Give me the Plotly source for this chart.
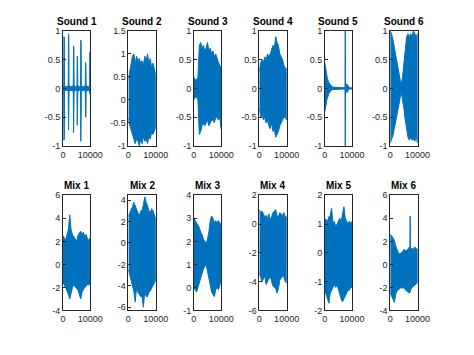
import plotly.graph_objects as go

# ---------------- data (envelopes) ----------------
x_grid = [0, 500, 1000, 1500, 2000, 2500, 3000, 3500, 4000, 4500, 5000,
          5500, 6000, 6500, 7000, 7500, 8000, 8500, 9000, 9500, 10000]

sound_titles = ["Sound 1", "Sound 2", "Sound 3", "Sound 4", "Sound 5", "Sound 6"]
mix_titles = ["Mix 1", "Mix 2", "Mix 3", "Mix 4", "Mix 5", "Mix 6"]

s1_x = [0, 300, 400, 500, 600, 1000, 1500, 1950, 2050, 2150, 2250, 3000, 3800, 3900,
        4000, 4100, 4700, 5150, 5250, 5350, 5450, 6000, 6450, 6550, 6650, 6750, 7500,
        8200, 8300, 8400, 8500, 9200, 9800, 9900, 10000]
s1_hi = [0.05, 0.04, 0.9, 0.88, 0.05, 0.03, 0.03, 0.05, 0.95, 0.9, 0.05, 0.03, 0.05,
         0.74, 0.7, 0.05, 0.03, 0.05, 0.56, 0.5, 0.05, 0.03, 0.05, 0.84, 0.8, 0.05, 0.03,
         0.05, 0.45, 0.4, 0.05, 0.03, 0.04, 0.63, 0.6]
s1_lo = [-0.05, -0.04, -0.9, -0.85, -0.05, -0.03, -0.03, -0.05, -0.72, -0.7, -0.05,
         -0.03, -0.05, -0.77, -0.72, -0.05, -0.03, -0.05, -0.64, -0.6, -0.05, -0.03,
         -0.05, -0.92, -0.88, -0.05, -0.03, -0.05, -0.5, -0.45, -0.05, -0.03, -0.04,
         -0.1, -0.08]

s2_hi = [0.45, 0.6, 0.75, 0.95, 1.0, 0.8, 0.95, 0.85, 0.9, 0.8, 0.85, 0.75, 0.95,
         0.85, 1.0, 0.8, 0.9, 0.7, 0.8, 0.65, 0.55]
s2_lo = [-0.4, -0.55, -0.7, -0.8, -0.85, -0.95, -0.85, -0.9, -1.0, -0.85, -0.95, -0.8,
         -0.9, -0.85, -0.95, -0.8, -0.85, -0.7, -0.75, -0.7, -0.6]

s3_hi = [0.2, 0.15, 0.15, 0.2, 0.75, 0.8, 0.7, 0.75, 0.65, 0.7, 0.8, 0.65, 0.7,
         0.6, 0.65, 0.55, 0.6, 0.5, 0.45, 0.4, 0.35]
s3_lo = [-0.2, -0.15, -0.15, -0.2, -0.8, -0.75, -0.65, -0.6, -0.65, -0.6, -0.55, -0.65,
         -0.6, -0.55, -0.55, -0.6, -0.5, -0.5, -0.55, -0.5, -0.7]

s4_hi = [0.3, 0.45, 0.5, 0.45, 0.55, 0.5, 0.6, 0.55, 0.6, 0.7, 0.75, 0.7, 0.9,
         0.8, 0.75, 0.6, 0.55, 0.5, 0.4, 0.35, 0.35]
s4_lo = [-0.35, -0.5, -0.45, -0.55, -0.5, -0.6, -0.55, -0.65, -0.7, -0.6, -0.75, -0.7,
         -0.85, -0.8, -0.75, -0.65, -0.6, -0.55, -0.5, -0.5, -0.55]

s5_x = [0, 250, 500, 750, 1000, 1500, 2000, 2500, 3000, 4000, 5000, 6000, 7000,
        7400, 7500, 7600, 7800, 8000, 8200, 8400, 8600, 9000, 10000]
s5_hi = [0.45, 0.38, 0.3, 0.22, 0.17, 0.1, 0.06, 0.04, 0.02, 0.015, 0.01, 0.01, 0.01,
         0.01, 1.0, 0.01, 0.03, 0.08, 0.06, 0.07, 0.02, 0.01, 0.01]
s5_lo = [-0.4, -0.35, -0.28, -0.2, -0.15, -0.09, -0.05, -0.03, -0.02, -0.015, -0.01, -0.01,
         -0.01, -0.01, -1.0, -0.01, -0.03, -0.07, -0.06, -0.06, -0.02, -0.01, -0.01]

s6_hi = [1.0, 0.95, 0.85, 0.72, 0.6, 0.48, 0.36, 0.22, 0.05, 0.2, 0.4, 0.65, 0.9,
         0.95, 0.9, 0.95, 0.9, 1.0, 0.95, 0.9, 0.95]
s6_lo = [-0.95, -0.9, -0.82, -0.7, -0.58, -0.46, -0.34, -0.2, -0.05, -0.18, -0.35, -0.55,
         -0.72, -0.85, -0.9, -0.85, -0.9, -0.88, -0.92, -0.85, -0.95]

m1_hi = [2.5, 2.3, 2.1, 2.6, 3.0, 4.3, 3.0, 2.6, 2.4, 2.2, 2.0, 2.5, 2.7, 2.9, 2.6,
         2.8, 2.4, 2.6, 2.2, 2.1, 2.3]
m1_lo = [-1.5, -1.8, -2.0, -2.2, -2.6, -3.0, -2.4, -2.0, -1.8, -1.9, -2.1, -2.2, -2.6,
         -3.0, -2.4, -2.2, -2.0, -1.9, -1.7, -1.8, -1.6]

m2_hi = [2.5, 2.8, 3.0, 3.4, 3.8, 3.5, 3.2, 2.8, 2.5, 3.0, 3.0, 3.6, 4.3, 3.8, 3.5,
         3.0, 2.8, 3.2, 3.0, 2.6, 2.3]
m2_lo = [-2.5, -3.0, -3.5, -4.0, -4.5, -5.5, -4.2, -4.6, -4.8, -5.0, -5.0, -6.0, -4.5,
         -5.0, -5.0, -4.6, -4.5, -4.2, -4.0, -3.8, -3.5]

m3_hi = [3.0, 2.9, 2.8, 2.7, 2.6, 2.4, 2.3, 2.1, 2.0, 1.9, 2.1, 2.4, 2.9, 3.1, 3.0,
         2.8, 2.9, 2.8, 2.9, 2.8, 2.7]
m3_lo = [0.0, -0.1, -0.2, 0.0, 0.2, 0.4, 0.6, 0.8, 0.9, 1.0, 0.8, 0.4, 0.1, -0.2, -0.3,
         -0.4, -0.1, 0.0, -0.1, 0.1, 0.3]

m4_hi = [1.0, 0.8, 0.9, 0.7, 0.5, 0.6, 0.4, 0.7, 0.3, 0.5, 0.8, 0.9, 1.0, 0.6, 0.5,
         0.8, 0.7, 0.6, 0.8, 0.5, 0.5]
m4_lo = [-3.4, -3.7, -4.0, -3.8, -3.6, -4.2, -4.0, -3.8, -3.6, -4.0, -4.3, -4.4, -4.5,
         -4.8, -4.5, -3.9, -3.8, -3.6, -3.7, -4.0, -4.1]

m5_hi = [1.2, 1.15, 1.1, 1.25, 1.3, 1.55, 1.0, 1.1, 0.9, 1.0, 1.1, 1.2, 1.1, 1.3, 1.6,
         1.2, 1.1, 1.0, 1.1, 1.0, 1.1]
m5_lo = [-1.3, -1.5, -1.6, -1.75, -1.4, -1.3, -1.2, -1.1, -1.2, -1.1, -1.3, -1.4, -1.6,
         -1.7, -1.6, -1.5, -1.4, -1.3, -1.3, -1.2, -1.2]

m6_x = [0, 500, 1000, 1500, 2000, 2500, 3000, 3500, 4000, 4500, 5000, 5500, 6000,
        6500, 7000, 7200, 7300, 7400, 7500, 8000, 8500, 9000, 9500, 10000]
m6_hi = [2.6, 2.5, 2.3, 2.1, 1.6, 1.2, 1.0, 0.9, 1.0, 1.1, 1.3, 1.2, 1.2, 1.4, 1.5,
         1.4, 4.2, 1.4, 1.3, 1.4, 1.3, 1.5, 1.4, 1.3]
m6_lo = [-2.5, -2.8, -3.0, -3.3, -2.6, -2.3, -2.2, -2.1, -2.0, -2.1, -2.0, -2.2, -2.3,
         -2.4, -2.5, -2.3, -2.4, -2.2, -2.2, -2.0, -1.9, -1.8, -1.7, -1.6]

x_tick_vals = [0, 10000]
x_tick_text = ["0", "10000"]

y_ticks_unit = [-1, -0.5, 0, 0.5, 1]
y_text_unit = ["-1", "-0.5", "0", "0.5", "1"]
y_ticks_s2 = [-1, -0.5, 0, 0.5, 1, 1.5]
y_text_s2 = ["-1", "-0.5", "0", "0.5", "1", "1.5"]
y_ticks_m1 = [-4, -2, 0, 2, 4, 6]
y_text_m1 = ["-4", "-2", "0", "2", "4", "6"]
y_ticks_m2 = [-6, -4, -2, 0, 2, 4]
y_text_m2 = ["-6", "-4", "-2", "0", "2", "4"]
y_ticks_m3 = [-1, 0, 1, 2, 3, 4]
y_text_m3 = ["-1", "0", "1", "2", "3", "4"]
y_ticks_m4 = [-6, -4, -2, 0, 2]
y_text_m4 = ["-6", "-4", "-2", "0", "2"]
y_ticks_m5 = [-2, -1, 0, 1, 2]
y_text_m5 = ["-2", "-1", "0", "1", "2"]

y_ranges = [[-1, 1], [-1, 1.5], [-1, 1], [-1, 1], [-1, 1], [-1, 1],
            [-4, 6], [-6.3, 4.45], [-1, 4], [-6, 2], [-2, 2], [-4, 6]]

# ---------------- assembly ----------------
panels = [
    (s1_x, s1_hi, s1_lo, y_ticks_unit, y_text_unit),
    (x_grid, s2_hi, s2_lo, y_ticks_s2, y_text_s2),
    (x_grid, s3_hi, s3_lo, y_ticks_unit, y_text_unit),
    (x_grid, s4_hi, s4_lo, y_ticks_unit, y_text_unit),
    (s5_x, s5_hi, s5_lo, y_ticks_unit, y_text_unit),
    (x_grid, s6_hi, s6_lo, y_ticks_unit, y_text_unit),
    (x_grid, m1_hi, m1_lo, y_ticks_m1, y_text_m1),
    (x_grid, m2_hi, m2_lo, y_ticks_m2, y_text_m2),
    (x_grid, m3_hi, m3_lo, y_ticks_m3, y_text_m3),
    (x_grid, m4_hi, m4_lo, y_ticks_m4, y_text_m4),
    (x_grid, m5_hi, m5_lo, y_ticks_m5, y_text_m5),
    (m6_x, m6_hi, m6_lo, y_ticks_m1, y_text_m1),
]
titles = sound_titles + mix_titles

W, H = 474, 355
BLUE = "#0072BD"
AX = "#262626"
FONT = "Liberation Sans, Arial, sans-serif"

col_left = [62 + 67.75 * c for c in range(6)]
col_w = 28.3
row_top = [26.7, 195.8]
row_bot = [145.0, 314.3]

fig = go.Figure()
layout = dict(
    width=W, height=H, autosize=False,
    margin=dict(l=0, r=0, t=0, b=0),
    paper_bgcolor="white", plot_bgcolor="white",
    showlegend=False,
    font=dict(family=FONT, size=9, color=AX),
)
annotations = []
for i, (xs, hi, lo, yt, ytt) in enumerate(panels):
    r, c = divmod(i, 6)
    n = "" if i == 0 else str(i + 1)
    fig.add_trace(go.Scatter(
        x=list(xs) + list(xs)[::-1],
        y=list(hi) + list(lo)[::-1],
        mode="lines", fill="toself", fillcolor=BLUE,
        line=dict(color=BLUE, width=1.0),
        xaxis="x" + n, yaxis="y" + n, hoverinfo="skip",
    ))
    x0 = col_left[c] / W
    x1 = (col_left[c] + col_w) / W
    y0 = 1 - row_bot[r] / H
    y1 = 1 - row_top[r] / H
    common = dict(showline=True, mirror=True, linecolor=AX, linewidth=0.6,
                  ticks="inside", ticklen=3, tickwidth=0.6, tickcolor=AX,
                  showgrid=False, zeroline=False, fixedrange=True,
                  tickfont=dict(family=FONT, size=9, color=AX))
    layout["xaxis" + n] = dict(domain=[x0, x1], range=[0, 10000], anchor="y" + n,
                               tickmode="array", tickvals=x_tick_vals,
                               ticktext=x_tick_text, **common)
    layout["yaxis" + n] = dict(domain=[y0, y1], range=y_ranges[i], anchor="x" + n,
                               tickmode="array", tickvals=yt, ticktext=ytt, **common)
    annotations.append(dict(
        text="<b>" + titles[i] + "</b>", xref="paper", yref="paper",
        x=(x0 + x1) / 2, y=y1, xanchor="center", yanchor="bottom",
        showarrow=False, font=dict(family=FONT, size=10, color="black"),
        yshift=2,
    ))
layout["annotations"] = annotations
fig.update_layout(**layout)

fig.write_html("out.html", config={"displayModeBar": False},
               post_script="document.body.style.margin='0';")
